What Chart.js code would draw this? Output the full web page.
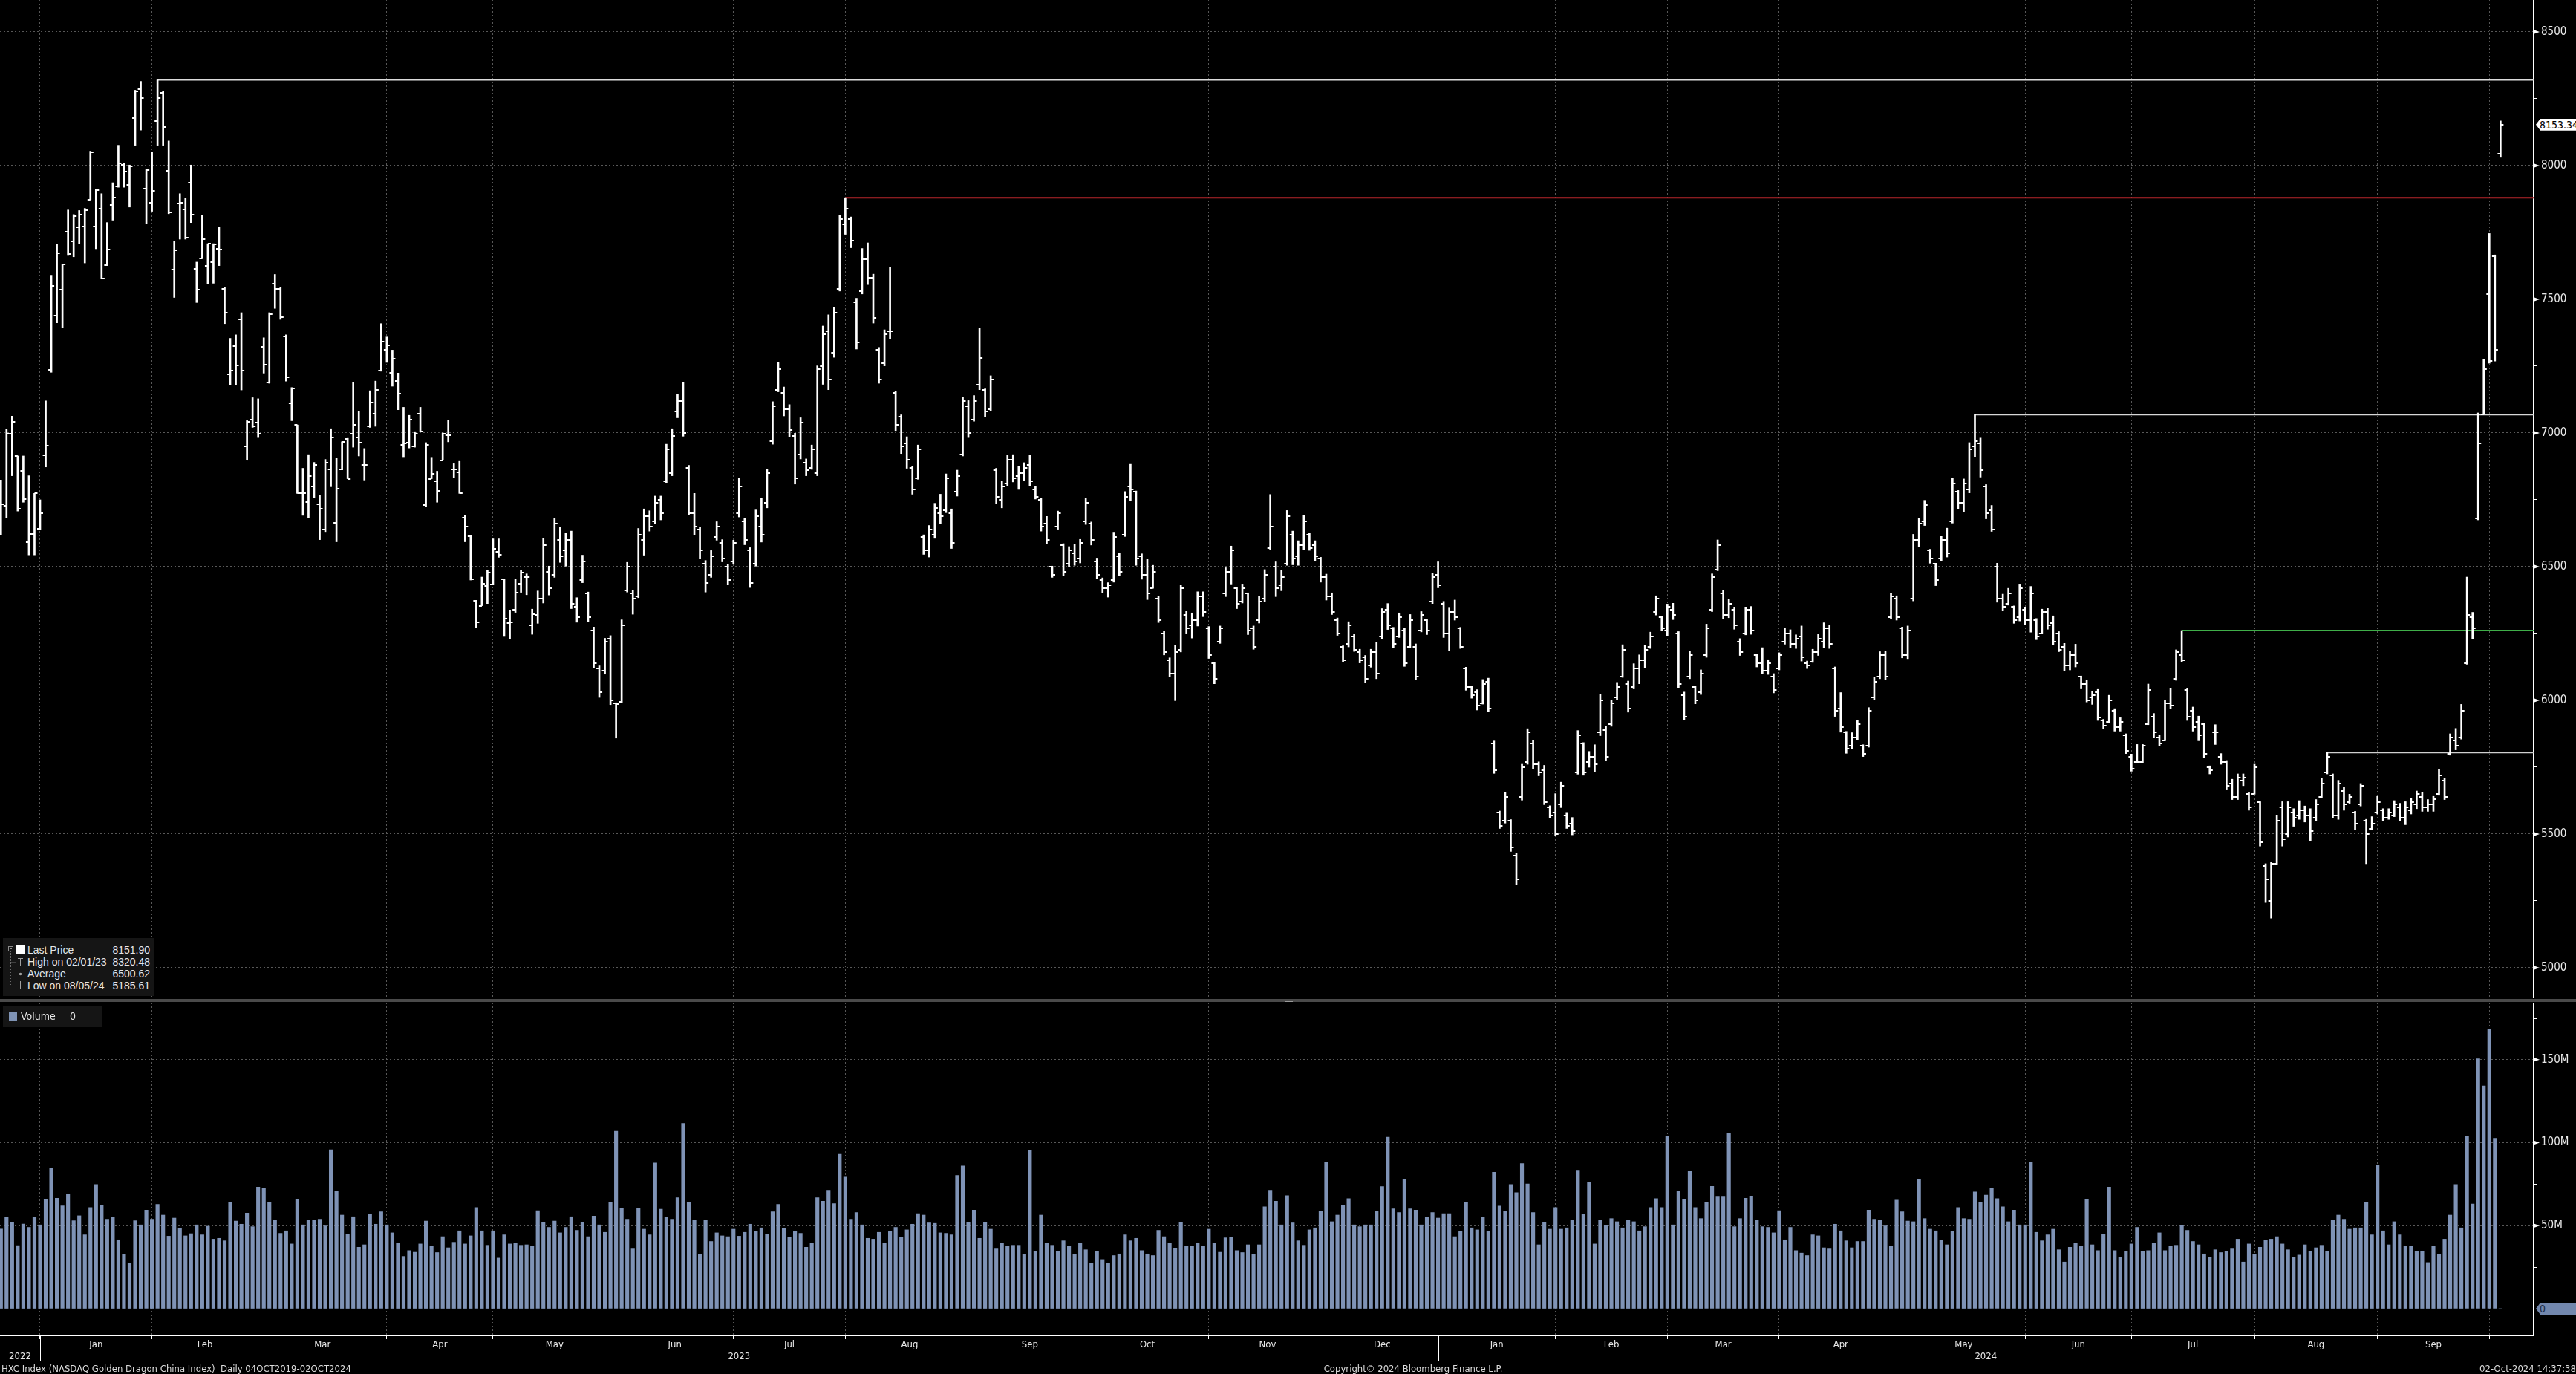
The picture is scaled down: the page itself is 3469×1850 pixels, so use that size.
<!DOCTYPE html>
<html>
<head>
<meta charset="utf-8">
<title>HXC Index</title>
<script src="https://cdn.jsdelivr.net/npm/chart.js"></script>
<style>
  html, body { margin: 0; padding: 0; background: #000; }
  #wrap { position: relative; width: 3469px; height: 1850px; overflow: hidden; background: #000; }
  canvas { position: absolute; left: 0; }
  #priceChart { top: 0; }
  #volumeChart { top: 1350px; }
  .box { position: absolute; background: #151515; color: #e6e6e6; }
  .row { position: absolute; left: 33px; right: 6px; height: 16px; white-space: nowrap;
         font-family: "Liberation Sans", Arial, sans-serif; font-size: 14px; line-height: 16px; }
  .row span { float: right; }
  .narrow { font-family: "Liberation Sans Narrow", "DejaVu Sans Condensed", "Arial Narrow", sans-serif; }
  .foot { position: absolute; top: 1835px; height: 15px; color: #dcdcdc; white-space: pre;
          font-size: 13px; line-height: 15px; }
  .tag { position: absolute; left: 3415px; width: 60px; height: 16px; padding-left: 5px; box-sizing: border-box;
         font-size: 14px; line-height: 16px; white-space: nowrap;
         clip-path: polygon(0 50%, 6px 0, 100% 0, 100% 100%, 6px 100%); }
</style>
</head>
<body>
<div id="wrap">
  <canvas id="priceChart" width="3469" height="1344"></canvas>
  <canvas id="volumeChart" width="3469" height="500"></canvas>

  <!-- separator between the panels -->
  <div style="position:absolute;left:0;top:1345px;width:3469px;height:4px;background:#4a4a4a;"></div>
  <div style="position:absolute;left:1730px;top:1346px;width:11px;height:1px;background:#9a9a9a;"></div>
  <div style="position:absolute;left:1730px;top:1348px;width:11px;height:1px;background:#9a9a9a;"></div>

  <div class="box" style="left:4px;top:1263px;width:204px;height:78px;">
    <svg width="32" height="78" style="position:absolute;left:0;top:0">
      <rect x="7.5" y="11.5" width="6" height="6" fill="none" stroke="#8c8c8c"/>
      <line x1="9" y1="14.5" x2="12" y2="14.5" stroke="#8c8c8c"/>
      <path d="M10.5 18 V64 M10.5 32.5 H17 M10.5 48.5 H17 M10.5 64.5 H17" stroke="#6c6c6c" stroke-dasharray="1 1" fill="none"/>
      <rect x="18" y="10" width="11" height="11" fill="#ffffff"/>
      <path d="M20 27.5 H27 M23.5 27.5 V37" stroke="#a0a0a0" fill="none"/>
      <path d="M18 48.5 H29" stroke="#a0a0a0" fill="none"/>
      <circle cx="23.5" cy="48.5" r="1.8" fill="#a0a0a0"/>
      <path d="M23.5 58 V68.5 M20 68.5 H27" stroke="#a0a0a0" fill="none"/>
    </svg>
    <div class="row" style="top:8px;">Last Price<span>8151.90</span></div>
    <div class="row" style="top:24px;">High on 02/01/23<span>8320.48</span></div>
    <div class="row" style="top:40px;">Average<span>6500.62</span></div>
    <div class="row" style="top:56px;">Low on 08/05/24<span>5185.61</span></div>
  </div>

  <div class="box narrow" style="left:4px;top:1354px;width:134px;height:29px;font-size:14px;line-height:29px;">
    <div style="position:absolute;left:8px;top:9px;width:11px;height:12px;background:#7f93b5;"></div>
    <div style="position:absolute;left:24px;top:0;">Volume</div>
    <div style="position:absolute;left:90px;top:0;">0</div>
  </div>

  <div id="lastTag" class="tag narrow" style="background:#ffffff;color:#000;">8153.34</div>
  <div id="volTag" class="tag narrow" style="background:#7287ad;color:#1b2b44;">0</div>

  <div class="foot narrow" style="left:2px;">HXC Index (NASDAQ Golden Dragon China Index)  Daily 04OCT2019-02OCT2024</div>
  <div class="foot narrow" style="left:1903px;transform:translateX(-50%);">Copyright© 2024 Bloomberg Finance L.P.</div>
  <div class="foot narrow" style="right:0;">02-Oct-2024 14:37:38</div>
</div>

<script>
"use strict";

// trading sessions per month shown, Dec 2022 (partial) .. Oct 2024 (partial)
const monthNames = ['Dec', 'Jan', 'Feb', 'Mar', 'Apr', 'May', 'Jun', 'Jul', 'Aug', 'Sep', 'Oct', 'Nov', 'Dec',
    'Jan', 'Feb', 'Mar', 'Apr', 'May', 'Jun', 'Jul', 'Aug', 'Sep', 'Oct'];
const monthSessions = [8, 20, 19, 23, 19, 22, 21, 20, 23, 20, 22, 21, 20,
    21, 20, 20, 22, 22, 19, 22, 22, 20, 2];
const yearNames = ['2022', '2023', '2024'];

const priceTickLabels = [5000, 5500, 6000, 6500, 7000, 7500, 8000, 8500];
const volumeTickLabels = [50, 100, 150];

// daily OHLC, one entry per session
const opens = [
    6651, 6728, 6997, 6914, 6857, 6593, 6621, 6643, 6918, 7236,
    7438, 7535, 7754, 7718, 7769, 7771, 7873, 7771, 7840, 7628,
    7853, 7923, 8002, 7927, 8178, 8285, 7914, 7862, 8166, 8273,
    7980, 7610, 7858, 7837, 7936, 7614, 7652, 7626, 7638, 7689,
    7540, 7219, 7326, 7425, 6950, 7049, 7038, 7323, 7188, 7557,
    7540, 7362, 7112, 7030, 6774, 6741, 6799, 6733, 6638, 6865,
    6664, 6865, 6977, 6997, 6983, 6881, 7026, 7071, 7234, 7310,
    7224, 7194, 6955, 6964, 6950, 7071, 6730, 6829, 6819, 6898,
    6993, 6865, 6852, 6684, 6614, 6371, 6354, 6428, 6433, 6555,
    6453, 6288, 6338, 6436, 6461, 6280, 6320, 6380, 6480, 6470,
    6600, 6560, 6600, 6350, 6450, 6400, 6260, 6120, 6110, 6230,
    5990, 5995, 6410, 6400, 6390, 6600, 6690, 6670, 6750, 6820,
    6850, 7080, 7120, 6870, 6700, 6640, 6510, 6470, 6610, 6590,
    6500, 6520, 6700, 6670, 6560, 6510, 6650, 6740, 6970, 7160,
    7150, 7090, 6990, 6920, 6890, 6870, 6850, 7250, 7380, 7300,
    7540, 7780, 7800, 7490, 7530, 7650, 7580, 7310, 7260, 7380,
    7150, 7060, 6960, 6870, 6830, 6610, 6560, 6620, 6700, 6710,
    6700, 6780, 6920, 7100, 7050, 7180, 7160, 7090, 6860, 6750,
    6810, 6900, 6840, 6850, 6880, 6790, 6750, 6660, 6500, 6650,
    6580, 6510, 6550, 6530, 6670, 6660, 6520, 6450, 6420, 6450,
    6540, 6620, 6800, 6780, 6540, 6470, 6420, 6380, 6250, 6150,
    6100, 6190, 6320, 6280, 6300, 6390, 6270, 6140, 6220, 6400,
    6480, 6420, 6370, 6400, 6270, 6300, 6380, 6570, 6500, 6430,
    6510, 6620, 6540, 6580, 6620, 6580, 6530, 6460, 6390, 6300,
    6200, 6210, 6240, 6180, 6160, 6130, 6180, 6240, 6340, 6270,
    6240, 6260, 6200, 6200, 6260, 6300, 6370, 6470, 6360, 6250,
    6330, 6270, 6120, 6050, 6030, 5990, 6070, 5840, 5580, 5550,
    5550, 5420, 5640, 5770, 5840, 5760, 5740, 5600, 5580, 5610,
    5570, 5540, 5730, 5840, 5770, 5790, 5880, 5890, 5910, 6010,
    6090, 6060, 6050, 6120, 6150, 6200, 6330, 6310, 6260, 6340,
    6250, 6020, 6090, 6050, 6030, 6170, 6340, 6490, 6400, 6320,
    6340, 6220, 6250, 6340, 6170, 6140, 6110, 6090, 6120, 6220,
    6250, 6210, 6240, 6140, 6145, 6180, 6220, 6270, 6120, 5970,
    5880, 5830, 5860, 5830, 5830, 6010, 6090, 6170, 6310, 6380,
    6270, 6170, 6380, 6600, 6670, 6560, 6510, 6530, 6600, 6670,
    6780, 6740, 6790, 6950, 6960, 6800, 6710, 6500, 6380, 6360,
    6350, 6310, 6340, 6300, 6300, 6250, 6330, 6290, 6250, 6200,
    6130, 6170, 6090, 6060, 6010, 6030, 5925, 5920, 5960, 5900,
    5870, 5790, 5770, 5770, 5910, 5940, 5860, 5850, 5990, 6080,
    6170, 6040, 5960, 5920, 5910, 5750, 5880, 5790, 5770, 5690,
    5640, 5700, 5650, 5650, 5620, 5380, 5250, 5390, 5600, 5500,
    5580, 5570, 5590, 5570, 5560, 5640, 5730, 5720, 5570, 5660,
    5620, 5580, 5610, 5550, 5520, 5580, 5590, 5560, 5570, 5600,
    5560, 5590, 5610, 5640, 5600, 5610, 5650, 5700, 5800, 5850,
    5860, 6140, 6310, 6680, 7070, 7520, 7660, 8044
];
const highs = [
    6824, 7013, 7063, 6914, 6914, 6840, 6774, 6750, 7120, 7590,
    7705, 7631, 7834, 7817, 7832, 7840, 8054, 7911, 7895, 7787,
    7936, 8076, 8010, 8002, 8282, 8315, 7985, 8051, 8320.48, 8278,
    8092, 7717, 7895, 7878, 8002, 7639, 7815, 7708, 7708, 7771,
    7544, 7354, 7367, 7450, 7046, 7132, 7128, 7356, 7450, 7593,
    7544, 7367, 7170, 7030, 6868, 6919, 6890, 6766, 6901, 7016,
    6906, 6967, 6980, 7189, 7082, 6942, 7158, 7194, 7409, 7359,
    7310, 7224, 7096, 7066, 7005, 7096, 6964, 6909, 6857, 7000,
    7049, 6885, 6894, 6692, 6618, 6374, 6461, 6486, 6604, 6604,
    6453, 6338, 6453, 6486, 6473, 6341, 6409, 6606, 6502, 6682,
    6647, 6626, 6633, 6384, 6543, 6405, 6274, 6129, 6232, 6242,
    5991, 6301, 6516, 6412, 6643, 6716, 6709, 6764, 6764, 6958,
    7016, 7146, 7190, 6879, 6774, 6647, 6523, 6560, 6668, 6601,
    6509, 6599, 6831, 6682, 6571, 6712, 6757, 6864, 7117, 7265,
    7172, 7106, 6999, 7057, 6903, 6955, 7251, 7400, 7442, 7469,
    7815, 7880, 7808, 7504, 7690, 7711, 7594, 7320, 7386, 7619,
    7156, 7068, 6986, 6875, 6955, 6619, 6654, 6737, 6771, 6847,
    6716, 6861, 7135, 7121, 7140, 7393, 7165, 7214, 6868, 6820,
    6916, 6919, 6875, 6889, 6916, 6799, 6757, 6688, 6502, 6708,
    6586, 6575, 6583, 6602, 6756, 6667, 6532, 6458, 6440, 6629,
    6550, 6781, 6883, 6783, 6548, 6527, 6505, 6388, 6258, 6159,
    6206, 6431, 6334, 6327, 6406, 6406, 6276, 6143, 6278, 6496,
    6577, 6424, 6435, 6402, 6278, 6388, 6489, 6770, 6518, 6486,
    6710, 6633, 6597, 6691, 6626, 6597, 6535, 6472, 6402, 6308,
    6204, 6294, 6248, 6191, 6168, 6191, 6218, 6343, 6362, 6273,
    6327, 6269, 6321, 6211, 6332, 6302, 6475, 6518, 6370, 6348,
    6375, 6273, 6124, 6053, 6040, 6078, 6083, 5848, 5586, 5656,
    5554, 5429, 5761, 5894, 5851, 5770, 5757, 5606, 5651, 5694,
    5581, 5562, 5887, 5842, 5809, 5834, 6022, 5903, 6000, 6067,
    6208, 6072, 6137, 6170, 6206, 6255, 6391, 6313, 6360, 6363,
    6257, 6031, 6184, 6053, 6114, 6285, 6473, 6600, 6413, 6379,
    6349, 6231, 6349, 6351, 6172, 6197, 6152, 6100, 6178, 6269,
    6264, 6245, 6278, 6147, 6191, 6247, 6290, 6281, 6125, 6029,
    5884, 5879, 5924, 5834, 5973, 6088, 6182, 6184, 6400, 6391,
    6274, 6278, 6621, 6682, 6748, 6565, 6513, 6613, 6644, 6832,
    6785, 6828, 6964, 7069, 6981, 6807, 6729, 6513, 6397, 6419,
    6353, 6435, 6349, 6426, 6306, 6341, 6344, 6316, 6257, 6213,
    6184, 6210, 6091, 6075, 6035, 6041, 5929, 6019, 5969, 5935,
    5875, 5799, 5835, 5835, 6061, 5951, 5869, 6001, 6045, 6189,
    6261, 6045, 5975, 5941, 5915, 5755, 5909, 5801, 5775, 5705,
    5725, 5725, 5655, 5761, 5621, 5389, 5395, 5569, 5621, 5621,
    5595, 5625, 5605, 5595, 5629, 5709, 5805, 5725, 5701, 5675,
    5649, 5585, 5689, 5555, 5565, 5641, 5595, 5595, 5625, 5615,
    5621, 5635, 5661, 5655, 5629, 5641, 5741, 5709, 5875, 5895,
    5985, 6461, 6329, 7075, 7275, 7746, 7666, 8167
];
const lows = [
    6618, 6684, 6840, 6708, 6741, 6544, 6544, 6638, 6873, 7227,
    7412, 7395, 7664, 7659, 7708, 7636, 7873, 7689, 7577, 7626,
    7796, 7919, 7919, 7845, 8076, 8133, 7784, 7829, 8076, 8076,
    7820, 7507, 7725, 7725, 7787, 7488, 7652, 7557, 7560, 7626,
    7409, 7181, 7181, 7161, 6898, 7021, 6983, 7224, 7186, 7466,
    7425, 7194, 7046, 6774, 6692, 6684, 6758, 6601, 6631, 6799,
    6593, 6862, 6829, 6947, 6914, 6824, 7021, 7025, 7231, 7264,
    7175, 7087, 6911, 6944, 6947, 7005, 6725, 6829, 6741, 6898,
    6967, 6832, 6774, 6593, 6450, 6272, 6354, 6362, 6433, 6535,
    6239, 6231, 6329, 6404, 6395, 6247, 6288, 6364, 6394, 6460,
    6516, 6502, 6343, 6292, 6440, 6295, 6122, 6011, 6098, 5984,
    5859, 5991, 6405, 6322, 6384, 6543, 6633, 6661, 6675, 6813,
    6840, 7057, 6988, 6693, 6619, 6530, 6405, 6460, 6599, 6518,
    6433, 6509, 6686, 6582, 6422, 6502, 6592, 6720, 6958, 7154,
    7064, 6986, 6809, 6903, 6840, 6864, 6840, 7182, 7162, 7283,
    7531, 7743, 7693, 7314, 7520, 7555, 7411, 7186, 7251, 7352,
    7009, 6923, 6868, 6771, 6827, 6546, 6536, 6606, 6661, 6702,
    6568, 6764, 6914, 6983, 7044, 7162, 7062, 7082, 6737, 6720,
    6803, 6817, 6789, 6822, 6803, 6753, 6633, 6585, 6460, 6640,
    6467, 6500, 6505, 6514, 6658, 6581, 6456, 6402, 6386, 6442,
    6467, 6613, 6748, 6505, 6453, 6377, 6419, 6291, 6170, 6088,
    5999, 6181, 6251, 6233, 6278, 6313, 6157, 6062, 6213, 6388,
    6435, 6343, 6364, 6246, 6191, 6289, 6370, 6564, 6388, 6410,
    6505, 6507, 6505, 6564, 6561, 6521, 6442, 6375, 6321, 6243,
    6143, 6200, 6183, 6140, 6067, 6124, 6081, 6229, 6265, 6197,
    6235, 6127, 6197, 6078, 6256, 6246, 6362, 6421, 6235, 6186,
    6300, 6194, 6038, 6008, 5964, 5986, 5959, 5727, 5521, 5541,
    5435, 5311, 5627, 5761, 5745, 5718, 5610, 5562, 5494, 5599,
    5521, 5497, 5724, 5720, 5750, 5734, 5868, 5776, 5903, 6001,
    6086, 5956, 6043, 6062, 6121, 6194, 6319, 6260, 6241, 6302,
    6048, 5926, 6081, 5987, 6022, 6161, 6332, 6485, 6306, 6309,
    6266, 6168, 6245, 6247, 6125, 6100, 6097, 6028, 6114, 6210,
    6198, 6194, 6147, 6119, 6142, 6168, 6198, 6194, 5940, 5881,
    5802, 5818, 5851, 5790, 5825, 6001, 6081, 6076, 6306, 6300,
    6159, 6156, 6372, 6574, 6654, 6513, 6429, 6522, 6536, 6663,
    6717, 6706, 6776, 6912, 6835, 6679, 6632, 6367, 6335, 6356,
    6288, 6297, 6283, 6255, 6227, 6250, 6266, 6208, 6182, 6112,
    6114, 6125, 6043, 5994, 5985, 5925, 5895, 5915, 5885, 5885,
    5801, 5735, 5765, 5765, 5909, 5861, 5829, 5849, 5969, 6075,
    6145, 5925, 5885, 5849, 5785, 5725, 5835, 5761, 5665, 5629,
    5629, 5681, 5589, 5649, 5455, 5244, 5185.61, 5385, 5455, 5489,
    5529, 5555, 5545, 5475, 5549, 5635, 5725, 5561, 5555, 5589,
    5615, 5515, 5605, 5389, 5515, 5575, 5549, 5555, 5565, 5549,
    5535, 5575, 5595, 5585, 5585, 5585, 5645, 5629, 5795, 5815,
    5855, 6135, 6229, 6675, 7069, 7261, 7269, 8031
];
const closes = [
    6733, 6997, 7043, 6717, 6753, 6621, 6774, 6700, 6954, 7549,
    7672, 7631, 7669, 7812, 7817, 7832, 8051, 7908, 7578, 7685,
    7880, 8007, 7977, 7998, 8278, 8254, 7982, 7906, 8252, 8145,
    7824, 7684, 7862, 7730, 7817, 7537, 7725, 7708, 7705, 7685,
    7450, 7234, 7252, 7234, 7043, 7026, 6997, 7255, 7445, 7540,
    7433, 7208, 7166, 6774, 6774, 6840, 6881, 6717, 6890, 6983,
    6791, 6967, 6829, 7030, 6964, 6881, 7115, 7161, 7343, 7329,
    7277, 7148, 6960, 7049, 6997, 7005, 6955, 6848, 6783, 6997,
    6993, 6865, 6774, 6651, 6453, 6292, 6436, 6478, 6568, 6544,
    6305, 6292, 6404, 6478, 6461, 6321, 6380, 6580, 6420, 6660,
    6540, 6600, 6360, 6310, 6520, 6310, 6140, 6030, 6220, 6000,
    5985, 6280, 6500, 6380, 6620, 6690, 6650, 6740, 6700, 6940,
    6990, 7120, 7000, 6700, 6650, 6560, 6440, 6540, 6650, 6530,
    6450, 6590, 6800, 6600, 6440, 6690, 6620, 6850, 7100, 7240,
    7090, 7010, 6830, 7040, 6860, 6940, 7240, 7370, 7200, 7450,
    7800, 7840, 7720, 7340, 7650, 7580, 7430, 7200, 7370, 7380,
    7030, 6950, 6900, 6790, 6940, 6560, 6640, 6720, 6690, 6830,
    6590, 6840, 7120, 7000, 7120, 7280, 7080, 7200, 6760, 6800,
    6900, 6830, 6850, 6870, 6820, 6760, 6650, 6600, 6470, 6700,
    6480, 6560, 6520, 6590, 6740, 6600, 6470, 6420, 6430, 6610,
    6480, 6760, 6790, 6530, 6470, 6400, 6480, 6300, 6180, 6100,
    6180, 6420, 6270, 6300, 6390, 6330, 6170, 6080, 6270, 6480,
    6560, 6360, 6420, 6260, 6200, 6370, 6470, 6650, 6420, 6460,
    6690, 6530, 6580, 6670, 6570, 6540, 6460, 6390, 6330, 6250,
    6150, 6280, 6190, 6150, 6080, 6180, 6100, 6330, 6280, 6210,
    6310, 6140, 6300, 6090, 6320, 6260, 6460, 6430, 6250, 6330,
    6310, 6200, 6050, 6020, 5980, 6060, 5970, 5740, 5530, 5640,
    5450, 5330, 5750, 5880, 5760, 5730, 5620, 5570, 5500, 5680,
    5530, 5510, 5870, 5730, 5790, 5760, 6000, 5790, 5990, 6050,
    6190, 5970, 6120, 6150, 6190, 6240, 6380, 6270, 6350, 6320,
    6060, 5940, 6170, 6000, 6100, 6270, 6460, 6580, 6320, 6360,
    6280, 6180, 6340, 6260, 6140, 6110, 6140, 6040, 6170, 6250,
    6210, 6230, 6160, 6130, 6180, 6230, 6270, 6210, 5960, 5900,
    5820, 5860, 5910, 5800, 5960, 6070, 6170, 6090, 6390, 6310,
    6170, 6260, 6600, 6660, 6730, 6530, 6450, 6600, 6550, 6810,
    6740, 6810, 6940, 6970, 6860, 6700, 6640, 6380, 6350, 6400,
    6300, 6420, 6300, 6400, 6240, 6330, 6280, 6220, 6190, 6130,
    6170, 6140, 6060, 6000, 6020, 5935, 5905, 6000, 5900, 5920,
    5810, 5745, 5770, 5830, 6040, 5880, 5840, 5990, 5980, 6180,
    6150, 5940, 5900, 5870, 5800, 5740, 5880, 5770, 5680, 5640,
    5710, 5710, 5600, 5750, 5470, 5330, 5390, 5550, 5480, 5600,
    5560, 5590, 5570, 5510, 5610, 5690, 5790, 5570, 5690, 5610,
    5640, 5540, 5680, 5500, 5540, 5620, 5560, 5580, 5610, 5560,
    5600, 5620, 5650, 5600, 5610, 5630, 5720, 5640, 5860, 5830,
    5960, 6320, 6270, 6960, 7240, 7270, 7310, 8151.9
];
// volume in millions
const volumes = [
    48, 55, 52, 38, 51, 49, 55, 50.5, 66, 84.5,
    66.6, 62, 69, 53, 56, 44.5, 61, 74.8, 62.4, 53.9,
    55, 41.5, 32.6, 27.5, 53, 50.5, 59.4, 53.9, 62.8, 56.4,
    43.7, 54.6, 48.4, 43.9, 45.2, 50.5, 44.5, 49.7, 41.9, 42.4,
    40.9, 63.9, 52.8, 50.9, 57.6, 49.4, 73.3, 72.5, 63.9, 53.4,
    45.4, 46.9, 39, 65.8, 50.5, 53.2, 53.4, 53.9, 49.9, 95.7,
    70.8, 56.4, 45, 55.4, 37, 38.5, 56.9, 50.9, 58.4, 50.5,
    45.7, 39.7, 31.5, 35, 34, 39, 52.8, 37.9, 33.8, 43.4,
    36.7, 40, 46.9, 39, 43.9, 60.9, 46.9, 38.2, 46.9, 30.5,
    44.5, 39, 39.7, 38.2, 38.5, 37.9, 59.1, 52, 49, 52.8,
    45.7, 49, 55.4, 47.2, 52, 43.4, 55.8, 50.5, 46, 63.9,
    106.9, 60.3, 53.9, 36, 60.6, 47.9, 44.5, 87.8, 59.9, 55,
    53.9, 66.9, 111.6, 64.3, 53.2, 32.6, 53.2, 40.5, 45.7, 43.9,
    43.4, 47.9, 43.7, 46, 50.9, 46.4, 48.7, 45, 58.4, 62.8,
    48.4, 43, 46.4, 45.4, 37, 39.7, 66.9, 64.8, 71.4, 63.3,
    93.1, 79.3, 53.9, 57.9, 50.5, 42.4, 41.9, 46, 39.4, 46.4,
    49, 43, 47.5, 50.9, 57.3, 56.4, 51.7, 51.4, 45.7, 45.4,
    44.5, 80.3, 86, 52, 59.4, 42.4, 52, 47.9, 36, 39.4,
    37.5, 38.2, 38.2, 32.6, 95.2, 34.5, 56.4, 39.4, 38.2, 34.5,
    40.9, 37.9, 32.6, 39.7, 35.5, 27.5, 34.5, 29.6, 27.5, 32,
    33, 44.5, 40.9, 42.4, 35, 33, 32, 47.2, 43.4, 39.4,
    36.4, 52, 37.5, 37.9, 39.7, 37.5, 47.9, 39.7, 34, 42.7,
    43, 35, 33.8, 38.5, 32.6, 38.5, 61.4, 71.4, 64.8, 50.5,
    68.1, 51.7, 40.9, 38.2, 47.5, 48.7, 58.8, 88.2, 52.4, 56.4,
    62.4, 66.3, 50.5, 49.4, 50.5, 50.5, 58.8, 73.6, 103.4, 60.2,
    57.9, 78.1, 60.2, 59.4, 50.5, 55, 57.9, 54.6, 57.3, 57.3,
    43.4, 46.4, 63.9, 48.7, 47.5, 55, 46.4, 82.2, 61.8, 58.8,
    74.8, 69.9, 87.5, 75.2, 57.9, 38.5, 52, 47.9, 60.9, 47.9,
    48.7, 53.2, 83, 56.9, 76, 39, 53.2, 50.2, 54.3, 52.4,
    48.7, 53.2, 52.4, 46.9, 49.4, 60.9, 66.3, 60.9, 103.9, 50.5,
    70.8, 65.8, 82.7, 60.9, 54.3, 64.3, 73.7, 67.3, 67.3, 105.7,
    49.4, 54.3, 66.6, 67.8, 53.2, 49.4, 49, 45.7, 59.1, 41.5,
    49, 35, 33.5, 32, 44.5, 43.9, 36.7, 36, 50.9, 46.9,
    40.9, 36.7, 40.5, 40.5, 59.4, 53.9, 53.4, 49.9, 37.9, 65.4,
    58.4, 52.8, 52.4, 77.8, 54.3, 47.9, 46.9, 41.2, 38.5, 46.4,
    60.9, 54.3, 53.9, 70.3, 63.9, 68.4, 72.8, 66.3, 61.4, 52.4,
    59.4, 50.5, 50.5, 88.2, 46, 40.9, 44.5, 47.9, 35.5, 28.1,
    37, 39.4, 37.5, 65.8, 38.5, 35, 45, 73.3, 35, 30.8,
    34.5, 39, 49, 34.5, 35, 39.7, 45.7, 35, 37.5, 38.2,
    50.2, 47.2, 40.5, 38.5, 33, 30.8, 35.5, 33.8, 34.5, 36,
    41.9, 28.1, 39, 32.6, 37, 41.2, 41.9, 43.4, 39, 35.5,
    30.8, 32.3, 38.5, 34.5, 36.7, 38.2, 34.5, 53.2, 56.4, 53.9,
    47.9, 48.7, 48.7, 63.9, 44.5, 86.3, 46.9, 38.5, 52.4, 44.5,
    37.5, 37.9, 34.5, 34.5, 27.8, 37.5, 32.6, 41.9, 56.4, 74.8,
    48.7, 103.9, 63.1, 150.6, 134.2, 168.3, 102.7, 0
];

// sessions whose high is carried to the right as a level line
const levelStarts = [28, 151, 353, 390, 416];
const levelColors = ['#dcdcdc', '#b8262b', '#d6d6d6', '#3fae49', '#d0d0d0'];
const lastPriceMark = 8153.34;

const NARROW = '"Liberation Sans Narrow", "DejaVu Sans Condensed", "Arial Narrow", sans-serif';
const GRID = '#585858';
const X_MIN = -0.17;
const X_MAX = 452.93;

/**
 * Last session of each month, used for the month grid lines
 * @returns {Array<number>}
 */
function monthEnds() {
    let n = 0;
    return monthSessions.map(d => { n += d; return n - 1; });
}

const ends = monthEnds();
const gridEnds = ends.slice(0, -1);
const monthMids = ends.slice(1, -1).map((e, k) => ({ value: (ends[k] + e) / 2, name: monthNames[k + 1] }));
const yearEnds = ends.filter((e, k) => monthNames[k + 1] === 'Jan');
const yearMids = yearNames.map((name, k) => {
    const from = k === 0 ? X_MIN : yearEnds[k - 1];
    const to = k < yearEnds.length ? yearEnds[k] : X_MAX;
    return { value: (from + to) / 2, name: name };
});

/**
 * Small open / close tick drawn as a point image
 * @param {boolean} left - tick on the left side of the bar
 * @returns {HTMLCanvasElement}
 */
function tickImage(left) {
    const c = document.createElement('canvas');
    c.width = 10;
    c.height = 2;
    const g = c.getContext('2d');
    g.fillStyle = '#ffffff';
    g.fillRect(left ? 1 : 5, 0, 4, 2);
    return c;
}

// white arrow heads next to labelled axis values
const axisMarkers = {
    id: 'axisMarkers',
    afterDraw(chart, args, opts) {
        const s = chart.scales.y;
        const g = chart.ctx;
        g.save();
        g.fillStyle = '#ffffff';
        opts.values.forEach(v => {
            const y = s.getPixelForValue(v);
            g.beginPath();
            g.moveTo(s.left + 1, y - 2.5);
            g.lineTo(s.left + 8, y);
            g.lineTo(s.left + 1, y + 2.5);
            g.closePath();
            g.fill();
        });
        g.restore();
    }
};

// long separators between the years under the time axis
const yearTicks = {
    id: 'yearTicks',
    afterDraw(chart) {
        const s = chart.scales.x;
        const g = chart.ctx;
        g.save();
        g.strokeStyle = '#ffffff';
        g.lineWidth = 1;
        yearEnds.forEach(v => {
            const x = Math.round(s.getPixelForValue(v)) + 0.5;
            g.beginPath();
            g.moveTo(x, s.top);
            g.lineTo(x, s.top + 34);
            g.stroke();
        });
        g.restore();
    }
};

function timeAxis(extra) {
    return Object.assign({
        type: 'linear', min: X_MIN, max: X_MAX, bounds: 'data', offset: false
    }, extra);
}

/**
 * Price panel: high-low bars with open/close ticks
 */
function createPriceChart() {
    const idx = opens.map((_, i) => i);
    const ctx = document.getElementById('priceChart').getContext('2d');
    const levelSets = levelStarts.map((s, k) => ({
        type: 'line',
        data: [{ x: s, y: highs[s] }, { x: X_MAX, y: highs[s] }],
        borderColor: levelColors[k],
        borderWidth: 2,
        pointRadius: 0,
        order: 5
    }));
    return new Chart(ctx, {
        type: 'bar',
        data: {
            datasets: [
                {
                    type: 'bar',
                    data: idx.map(i => ({ x: i, y: [lows[i], highs[i]] })),
                    backgroundColor: '#ffffff',
                    barThickness: 2,
                    borderWidth: 0,
                    order: 1
                },
                {
                    type: 'scatter',
                    data: idx.map(i => ({ x: i, y: opens[i] })),
                    pointStyle: tickImage(true),
                    pointRadius: 1,
                    order: 2
                },
                {
                    type: 'scatter',
                    data: idx.map(i => ({ x: i, y: closes[i] })),
                    pointStyle: tickImage(false),
                    pointRadius: 1,
                    order: 2
                }
            ].concat(levelSets)
        },
        options: {
            responsive: false,
            animation: false,
            devicePixelRatio: 1,
            events: [],
            layout: { padding: 0, autoPadding: false },
            plugins: { legend: { display: false }, tooltip: { enabled: false }, axisMarkers: { values: priceTickLabels } },
            scales: {
                x: timeAxis({
                    afterBuildTicks: s => { s.ticks = gridEnds.map(v => ({ value: v })); },
                    ticks: { display: false },
                    grid: { color: GRID, drawTicks: false, offset: false },
                    border: { display: false, dash: [2, 3] },
                    afterFit: s => { s.height = 0; s.paddingLeft = 0; s.paddingRight = 0; }
                }),
                y: {
                    type: 'linear',
                    position: 'right',
                    min: 4886.1,
                    max: 8619.4,
                    bounds: 'data',
                    afterBuildTicks: s => {
                        s.ticks = priceTickLabels.flatMap(v => [v, v + 250])
                            .filter(v => v <= s.max).map(v => ({ value: v }));
                    },
                    ticks: {
                        autoSkip: false,
                        padding: 6,
                        color: '#e8e8e8',
                        font: { family: NARROW, size: 15 },
                        callback: v => priceTickLabels.includes(v) ? String(v) : ''
                    },
                    grid: {
                        color: c => priceTickLabels.includes(c.tick.value) ? GRID : 'transparent',
                        tickColor: c => priceTickLabels.includes(c.tick.value) ? 'transparent' : '#ffffff',
                        tickLength: 4,
                        tickWidth: 1
                    },
                    border: { display: true, color: '#ffffff', width: 2, dash: [2, 3] },
                    afterFit: s => { s.width = 57; s.paddingTop = 0; s.paddingBottom = 0; }
                }
            }
        },
        plugins: [axisMarkers]
    });
}

/**
 * Volume panel with the shared time axis
 */
function createVolumeChart() {
    const ctx = document.getElementById('volumeChart').getContext('2d');
    const volTicks = [0, 25, 50, 75, 100, 125, 150, 175];
    return new Chart(ctx, {
        type: 'bar',
        data: {
            datasets: [{
                data: volumes.map((v, i) => ({ x: i, y: v })),
                backgroundColor: '#7f93b6',
                barThickness: 4.5,
                borderWidth: 0
            }]
        },
        options: {
            responsive: false,
            animation: false,
            devicePixelRatio: 1,
            events: [],
            layout: { padding: 0, autoPadding: false },
            plugins: { legend: { display: false }, tooltip: { enabled: false }, axisMarkers: { values: volumeTickLabels } },
            scales: {
                x: timeAxis({
                    position: 'bottom',
                    weight: 0,
                    afterBuildTicks: s => {
                        s.ticks = gridEnds.map(v => ({ value: v }))
                            .concat(monthMids.map(m => ({ value: m.value, name: m.name })))
                            .sort((a, b) => a.value - b.value);
                    },
                    ticks: {
                        autoSkip: false, maxRotation: 0, minRotation: 0, padding: 0,
                        color: '#e6e6e6',
                        font: { family: NARROW, size: 13 },
                        callback: (v, i, t) => t[i].name || ''
                    },
                    grid: {
                        color: c => c.tick && c.tick.name ? 'transparent' : GRID,
                        tickColor: c => c.tick && c.tick.name ? 'transparent' : '#ffffff',
                        tickLength: 5,
                        tickWidth: 1,
                        offset: false
                    },
                    border: { display: true, color: '#ffffff', width: 2, dash: [2, 3] },
                    afterFit: s => { s.height = 20; s.paddingLeft = 0; s.paddingRight = 0; }
                }),
                x2: timeAxis({
                    position: 'bottom',
                    weight: 1,
                    afterBuildTicks: s => { s.ticks = yearMids.map(m => ({ value: m.value, name: m.name })); },
                    ticks: {
                        autoSkip: false, maxRotation: 0, minRotation: 0, padding: 1,
                        color: '#e6e6e6',
                        font: { family: NARROW, size: 13 },
                        callback: (v, i, t) => t[i].name
                    },
                    grid: { display: false, drawTicks: false },
                    border: { display: false },
                    afterFit: s => { s.height = 32; s.paddingLeft = 0; s.paddingRight = 0; }
                }),
                y: {
                    type: 'linear',
                    position: 'right',
                    min: -16.1,
                    max: 184.4,
                    bounds: 'data',
                    afterBuildTicks: s => { s.ticks = volTicks.map(v => ({ value: v })); },
                    ticks: {
                        autoSkip: false,
                        padding: 6,
                        color: '#e8e8e8',
                        font: { family: NARROW, size: 15 },
                        callback: v => volumeTickLabels.includes(v) ? v + 'M' : ''
                    },
                    grid: {
                        color: c => c.tick.value % 50 === 0 ? GRID : 'transparent',
                        tickColor: c => c.tick.value % 50 === 0 ? 'transparent' : '#ffffff',
                        tickLength: 4,
                        tickWidth: 1
                    },
                    border: { display: true, color: '#ffffff', width: 2, dash: [2, 3] },
                    afterFit: s => { s.width = 57; s.paddingTop = 0; s.paddingBottom = 0; }
                }
            }
        },
        plugins: [axisMarkers, yearTicks]
    });
}

window.onload = () => {
    const price = createPriceChart();
    const volume = createVolumeChart();
    document.getElementById('lastTag').style.top = (price.scales.y.getPixelForValue(lastPriceMark) - 8) + 'px';
    document.getElementById('volTag').style.top = (1350 + volume.scales.y.getPixelForValue(0) - 8) + 'px';
};
</script>
</body>
</html>
